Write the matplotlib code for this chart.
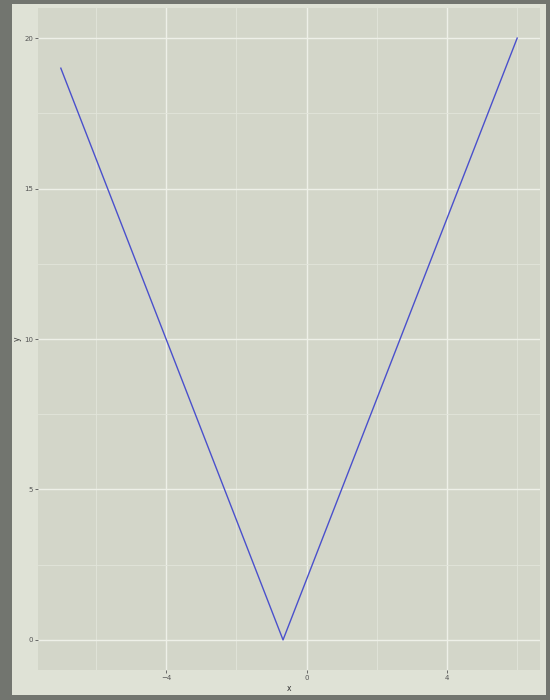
import matplotlib
matplotlib.use("Agg")
import matplotlib.pyplot as plt

x_vals = [-7, -0.67, 6]
y_vals = [19, 0, 20]
x_ticks = [-4, 0, 4]
y_ticks = [0, 5, 10, 15, 20]

# ggplot style expansion (5% each side)
def expand(lo, hi, f=0.05):
    d = (hi - lo) * f
    return lo - d, hi + d

fig = plt.figure(figsize=(5.5, 7), dpi=100, facecolor="#72756f")

# lighter screen area inside the dark bezel
bg = fig.add_axes([12 / 550, 5 / 700, 534 / 550, 691 / 700], zorder=-1)
bg.set_facecolor("#dfe2d6")
bg.set_xticks([])
bg.set_yticks([])
for s in bg.spines.values():
    s.set_visible(False)

ax = fig.add_axes([38 / 550, 30 / 700, 502 / 550, 662 / 700])
ax.set_facecolor("#d3d6c9")

ax.plot(x_vals, y_vals, color="#4a50cc", linewidth=1.0, zorder=3)

ax.set_xlim(*expand(min(x_vals), max(x_vals)))
ax.set_ylim(*expand(0, 20))
ax.set_xticks(x_ticks)
ax.set_yticks(y_ticks)
ax.set_xticks([-6, -2, 2, 6], minor=True)
ax.set_yticks([2.5, 7.5, 12.5, 17.5], minor=True)

ax.grid(which="major", color="#eef0e8", linewidth=1.0)
ax.grid(which="minor", color="#e2e5da", linewidth=0.6)
ax.set_axisbelow(True)
for s in ax.spines.values():
    s.set_visible(False)

ax.tick_params(which="major", length=2, width=0.6, color="#555555",
               labelsize=5, labelcolor="#555555", pad=1.5)
ax.tick_params(which="minor", length=0)
ax.set_xlabel("x", fontsize=5.5, color="#333333", labelpad=2)
ax.set_ylabel("y", fontsize=5.5, color="#333333", labelpad=2)

fig.savefig("out.png", dpi=100, facecolor=fig.get_facecolor())
